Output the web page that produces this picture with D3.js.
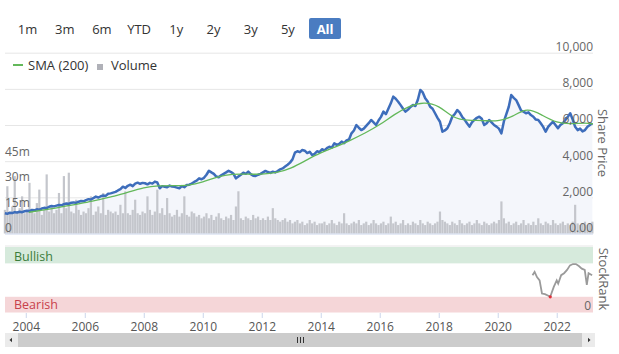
<!DOCTYPE html>
<html>
<head>
<meta charset="utf-8">
<script src="https://cdnjs.cloudflare.com/ajax/libs/d3/7.8.5/d3.min.js"></script>
<style>
    body { margin: 0; background: #fff; }
    svg { font-family: "Open Sans", sans-serif; display: block; }
</style>
</head>
<body>
<div id="chart"></div>
<script>
// monthly closes (pence), Apr 2003 -> Mar 2023
var sharePrice = [
    1120, 1090, 1150, 1130, 1180, 1160, 1200, 1180, 1230,                  // 2003
    1260, 1240, 1300, 1280, 1340, 1320, 1380, 1420, 1400, 1480, 1520, 1500, // 2004
    1540, 1580, 1560, 1620, 1660, 1640, 1700, 1720, 1690, 1760, 1800, 1780, // 2005
    1850, 1900, 1880, 1960, 2040, 1990, 2060, 2100, 2080, 2200, 2220, 2260, // 2006
    2300, 2380, 2450, 2590, 2520, 2640, 2700, 2620, 2760, 2810, 2750, 2800, // 2007
    2780, 2720, 2800, 2760, 2870, 2820, 2500, 2620, 2590, 2560, 2650, 2600, // 2008
    2580, 2540, 2500, 2620, 2560, 2680, 2700, 2760, 2850, 2920, 3050, 3000, // 2009
    3080, 3250, 3470, 3380, 3300, 3150, 3110, 3220, 3300, 3380, 3470, 3400, // 2010
    3300, 3050, 3150, 3250, 3360, 3300, 3420, 3280, 3200, 3180, 3250, 3300, // 2011
    3380, 3460, 3400, 3350, 3420, 3380, 3450, 3550, 3600, 3700, 3800, 3920, // 2012
    4100, 4470, 4550, 4500, 4620, 4580, 4450, 4520, 4340, 4400, 4550, 4500, // 2013
    4660, 4600, 4720, 4800, 4750, 4990, 4900, 4950, 5080, 5000, 5150, 5200, // 2014
    5540, 5700, 6000, 5850, 5720, 5800, 5950, 6100, 6280, 6150, 6000, 6250, // 2015
    6450, 6740, 6600, 6900, 7200, 7570, 7450, 7290, 7100, 6900, 6740, 6850, // 2016
    7000, 7110, 7050, 7400, 7940, 7800, 7480, 7300, 7010, 6900, 6650, 6400, // 2017
    6180, 5630, 5700, 5820, 6100, 6460, 6600, 6830, 6700, 6460, 6300, 6100, // 2018
    5910, 6150, 6280, 6400, 6460, 6350, 6000, 6100, 6280, 6150, 6000, 5910, // 2019
    5800, 5540, 6200, 6600, 7010, 7660, 7500, 7380, 7100, 6800, 6740, 6650, // 2020
    6700, 6550, 6460, 6300, 6280, 6100, 5900, 5630, 5900, 6050, 6180, 6000, // 2021
    5820, 6000, 6100, 6280, 6450, 6650, 6300, 5900, 5720, 5800, 5650, 5720, // 2022
    5900, 6000, 6100                                                        // 2023
];

// monthly volume, millions of shares
var volumeM = [
    14, 28, 12, 16, 34, 13, 15, 22, 12,
    13, 30, 14, 12, 18, 26, 11, 14, 35, 13, 16, 12,
    14, 24, 12, 34, 15, 36, 13, 12, 20, 14, 11, 13,
    12, 15, 22, 11, 13, 16, 12, 24, 11, 14, 13, 12,
    13, 11, 17, 12, 25, 12, 11, 14, 20, 12, 11, 13,
    12, 22, 14, 11, 13, 26, 12, 15, 11, 21, 12, 10,
    11, 14, 10, 12, 22, 11, 10, 13, 12, 10, 11, 9,
    10, 12, 9, 11, 8, 10, 12, 9, 8, 10, 9, 11,
    8, 16, 25, 9, 8, 10, 9, 8, 11, 9, 10, 8,
    9, 8, 10, 8, 15, 9, 8, 7, 8, 9, 7, 8,
    6, 7, 8, 6, 7, 5, 6, 8, 6, 7, 5, 6,
    6, 7, 5, 6, 8, 6, 5, 7, 6, 12, 6, 5,
    6, 7, 6, 8, 5, 6, 7, 5, 6, 8, 6, 5,
    6, 7, 5, 6, 10, 6, 7, 5, 6, 8, 5, 6,
    5, 7, 6, 5, 8, 6, 5, 7, 6, 5, 6, 7,
    13, 8, 7, 6, 5, 7, 6, 5, 8, 6, 5, 6,
    7, 5, 6, 8, 6, 5, 7, 6, 5, 6, 7, 6,
    8, 19, 9, 6, 7, 5, 6, 7, 5, 6, 8, 5,
    6, 5, 7, 5, 9, 6, 5, 7, 6, 5, 8, 6,
    5, 6, 7, 5, 6, 5, 7, 17, 6, 5, 6, 7,
    5, 6, 7
];

var smaYears = [2004.1, 2004.5, 2005, 2005.5, 2006, 2006.5, 2007, 2007.5, 2008, 2008.5,
    2009, 2009.5, 2010, 2010.5, 2011, 2011.5, 2012, 2012.5, 2013, 2013.5,
    2014, 2014.5, 2015, 2015.5, 2016, 2016.5, 2017, 2017.5, 2018, 2018.5,
    2019, 2019.5, 2020, 2020.5, 2021, 2021.5, 2022, 2022.5, 2023, 2023.23];
var smaValues = [1170, 1280, 1400, 1550, 1700, 1880, 2050, 2300, 2550, 2650,
    2650, 2650, 2830, 3150, 3300, 3280, 3270, 3350, 3600, 4050,
    4480, 4780, 5150, 5550, 6000, 6600, 7060, 7280, 7100, 6350,
    6250, 6260, 6180, 6450, 6980, 6550, 6100, 6060, 6120, 6060];

var rankYears = [2021.18, 2021.25, 2021.33, 2021.42, 2021.5, 2021.6, 2021.7, 2021.78,
    2021.9, 2022.0, 2022.05, 2022.15, 2022.25, 2022.35, 2022.45, 2022.55,
    2022.65, 2022.75, 2022.85, 2022.95, 2023.02, 2023.08, 2023.2];
var rankValues = [57, 62, 54, 49, 29, 28, 26, 24, 39, 49, 44, 57, 60, 65, 72, 74,
    74, 71, 67, 65, 42, 60, 57];

var rangeButtons = ["1m", "3m", "6m", "YTD", "1y", "2y", "3y", "5y", "All"];
var priceTicks = [0, 2000, 4000, 6000, 8000, 10000];
var volumeTicks = [0, 15, 30, 45];
var yearTicks = [2004, 2006, 2008, 2010, 2012, 2014, 2016, 2018, 2020, 2022];

drawChart();

function drawChart() {
    var width = 619, height = 354;
    var left = 5, right = 593;

    var svg = d3.select("#chart").append("svg")
        .attr("width", width)
        .attr("height", height);

    var x = d3.scaleLinear().domain([2003.295, 2023.23]).range([left, right]);
    var yPrice = d3.scaleLinear().domain([0, 10000]).range([233.5, 52.7]);
    var yVol = d3.scaleLinear().domain([0, 45]).range([233.5, 157.5]);
    var yRank = d3.scaleLinear().domain([0, 100]).range([312.5, 247]);

    var monthYear = function(i) { return 2003 + (3 + i + 0.5) / 12; };
    var prices = sharePrice.map(function(v, i) { return {year: monthYear(i), value: v}; });
    var volumes = volumeM.map(function(v, i) { return {year: monthYear(i), value: v}; });
    var sma = smaYears.map(function(yr, i) { return {year: yr, value: smaValues[i]}; });
    var rank = rankYears.map(function(yr, i) { return {year: yr, value: rankValues[i]}; });

    // range selector
    var btn = svg.append("g");
    btn.selectAll("rect")
        .data(rangeButtons.filter(function(d) { return d === "All"; }))
        .enter().append("rect")
        .attr("x", 309).attr("y", 18)
        .attr("width", 32).attr("height", 21)
        .attr("rx", 2)
        .attr("fill", "#4a7cc1");
    btn.selectAll("text")
        .data(rangeButtons).enter()
        .append("text")
        .attr("x", function(d, i) { return 27.5 + i * 37.2; })
        .attr("y", 29)
        .attr("dy", "0.35em")
        .attr("text-anchor", "middle")
        .attr("font-size", 13)
        .attr("font-weight", function(d) { return d === "All" ? "bold" : "normal"; })
        .attr("fill", function(d) { return d === "All" ? "#fff" : "#333"; })
        .text(function(d) { return d; });

    // gridlines
    svg.append("g")
        .attr("transform", "translate(" + right + ",0)")
        .call(d3.axisLeft(yPrice).tickValues(priceTicks.filter(function(d) { return d > 0; }))
            .tickSize(right - left).tickFormat(""))
        .call(function(g) {
            g.select(".domain").remove();
            g.selectAll("line").attr("stroke", "#e6e6e6");
        });

    // area under price
    svg.append("path")
        .datum(prices)
        .attr("fill", "#f4f6fb")
        .attr("d", d3.area()
            .x(function(d) { return x(d.year); })
            .y0(yPrice(0))
            .y1(function(d) { return yPrice(d.value); }));

    // volume bars
    svg.append("g").selectAll("rect")
        .data(volumes).enter()
        .append("rect")
        .attr("x", function(d) { return x(d.year) - 1.1; })
        .attr("y", function(d) { return yVol(d.value); })
        .attr("width", 2.2)
        .attr("height", function(d) { return yVol(0) - yVol(d.value); })
        .attr("fill", "#c4c6cc");

    svg.append("line")
        .attr("x1", left).attr("x2", right)
        .attr("y1", 234).attr("y2", 234)
        .attr("stroke", "#ccd6eb");

    svg.append("path")
        .datum(prices)
        .attr("fill", "none")
        .attr("stroke", "#3d6dbb")
        .attr("stroke-width", 2.5)
        .attr("stroke-linejoin", "round")
        .attr("d", d3.line()
            .x(function(d) { return x(d.year); })
            .y(function(d) { return yPrice(d.value); }));

    svg.append("path")
        .datum(sma)
        .attr("fill", "none")
        .attr("stroke", "#63b85a")
        .attr("stroke-width", 1.3)
        .attr("d", d3.line()
            .curve(d3.curveBasis)
            .x(function(d) { return x(d.year); })
            .y(function(d) { return yPrice(d.value); }));

    // price labels on the right
    svg.append("g")
        .attr("transform", "translate(" + right + ",0)")
        .call(d3.axisLeft(yPrice).tickValues(priceTicks).tickSize(0).tickPadding(0)
            .tickFormat(function(d) { return d === 0 ? "0.00" : d3.format(",")(d); }))
        .call(function(g) {
            g.select(".domain").remove();
            g.selectAll("text")
                .attr("y", -6)
                .attr("font-family", "Open Sans")
                .attr("font-size", 12)
                .attr("fill", "#666");
        });

    // volume labels on the left
    svg.append("g")
        .attr("transform", "translate(" + left + ",0)")
        .call(d3.axisRight(yVol).tickValues(volumeTicks).tickSize(0).tickPadding(0)
            .tickFormat(function(d) { return d === 0 ? "0" : d + "m"; }))
        .call(function(g) {
            g.select(".domain").remove();
            g.selectAll("text")
                .attr("y", -6)
                .attr("font-family", "Open Sans")
                .attr("font-size", 12)
                .attr("fill", "#666");
        });

    // legend
    var legend = svg.append("g");
    legend.append("line")
        .attr("x1", 13).attr("x2", 23).attr("y1", 65).attr("y2", 65)
        .attr("stroke", "#63b85a").attr("stroke-width", 2);
    legend.append("text")
        .attr("x", 28).attr("y", 65).attr("dy", "0.35em")
        .attr("font-size", 13).attr("fill", "#333")
        .text("SMA (200)");
    legend.append("rect")
        .attr("x", 97).attr("y", 64).attr("width", 6).attr("height", 6)
        .attr("fill", "#b0b1b8");
    legend.append("text")
        .attr("x", 111).attr("y", 65).attr("dy", "0.35em")
        .attr("font-size", 13).attr("fill", "#333")
        .text("Volume");

    svg.append("text")
        .attr("transform", "translate(603,143) rotate(90)")
        .attr("text-anchor", "middle")
        .attr("dy", "0.35em")
        .attr("font-size", 13)
        .attr("fill", "#666")
        .text("Share Price");

    // StockRank panel
    svg.append("line")
        .attr("x1", left).attr("x2", right)
        .attr("y1", 246).attr("y2", 246)
        .attr("stroke", "#e6e6e6");
    svg.append("rect")
        .attr("x", left).attr("y", yRank(100))
        .attr("width", right - left).attr("height", yRank(75) - yRank(100))
        .attr("fill", "#d6eadc");
    svg.append("rect")
        .attr("x", left).attr("y", yRank(24))
        .attr("width", right - left).attr("height", yRank(0) - yRank(24))
        .attr("fill", "#f5d6d8");
    svg.append("text")
        .attr("x", 14).attr("y", 257).attr("dy", "0.35em")
        .attr("font-size", 12.5).attr("fill", "#3b7d3b")
        .text("Bullish");
    svg.append("text")
        .attr("x", 14).attr("y", 305).attr("dy", "0.35em")
        .attr("font-size", 12.5).attr("fill", "#c8414b")
        .text("Bearish");
    svg.append("text")
        .attr("x", 591).attr("y", 306).attr("dy", "0.35em")
        .attr("text-anchor", "end")
        .attr("font-size", 12).attr("fill", "#666")
        .text("0");

    svg.append("path")
        .datum(rank)
        .attr("fill", "none")
        .attr("stroke", "#9a9a9a")
        .attr("stroke-width", 1.8)
        .attr("d", d3.line()
            .x(function(d) { return x(d.year); })
            .y(function(d) { return yRank(d.value); }));

    var low = d3.least(rank, function(d) { return d.value; });
    svg.append("circle")
        .attr("cx", x(low.year)).attr("cy", yRank(low.value))
        .attr("r", 1.6)
        .attr("fill", "#e0303a");

    svg.append("text")
        .attr("transform", "translate(604,279) rotate(90)")
        .attr("text-anchor", "middle")
        .attr("dy", "0.35em")
        .attr("font-size", 13)
        .attr("fill", "#666")
        .text("StockRank");

    // time axis
    svg.append("g")
        .attr("transform", "translate(0,313)")
        .call(d3.axisBottom(x).tickValues(yearTicks).tickSize(5).tickPadding(4)
            .tickFormat(d3.format("d")))
        .call(function(g) {
            g.select(".domain").remove();
            g.selectAll("line").attr("stroke", "#ccd6eb");
            g.selectAll("text")
                .attr("font-family", "Open Sans")
                .attr("font-size", 12)
                .attr("fill", "#555");
        });

    // scrollbar
    var sb = svg.append("g");
    sb.append("rect").attr("x", 5).attr("y", 333).attr("width", 590).attr("height", 14)
        .attr("fill", "#f2f2f2");
    sb.append("rect").attr("x", 18).attr("y", 333).attr("width", 564).attr("height", 14)
        .attr("fill", "#cccccc");
    sb.append("rect").attr("x", 5).attr("y", 333).attr("width", 13).attr("height", 14)
        .attr("fill", "#ebebeb");
    sb.append("rect").attr("x", 582).attr("y", 333).attr("width", 13).attr("height", 14)
        .attr("fill", "#ebebeb");
    sb.append("path").attr("d", "M9.5,340 L12,337.8 L12,342.2 Z").attr("fill", "#333");
    sb.append("path").attr("d", "M590.5,340 L588,337.8 L588,342.2 Z").attr("fill", "#333");
    sb.selectAll(".grip")
        .data([-3, 0, 3]).enter()
        .append("line")
        .attr("x1", function(d) { return 300.5 + d; })
        .attr("x2", function(d) { return 300.5 + d; })
        .attr("y1", 337).attr("y2", 343)
        .attr("stroke", "#333").attr("stroke-width", 1);
}
</script>
</body>
</html>
